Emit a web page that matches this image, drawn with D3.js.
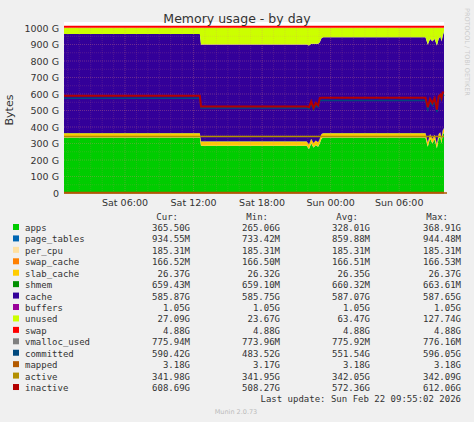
<!DOCTYPE html><html><head><meta charset="utf-8">
<script src="https://cdn.jsdelivr.net/npm/d3@7"></script>
<style>body{margin:0;background:#f0f0f0}</style></head><body><svg id="c" width="474" height="422"></svg>
<script>
const hours=[0.66,12.55,12.65,21.9,22.1,22.3,22.5,22.7,22.9,23.05,23.2,23.35,32.3,32.5,32.7,32.9,33.1,33.3,33.45,33.6,33.7,33.8,33.92];
const apps=[335,335,285,285,265,300,275,290,280,300,330,335,335,280,330,300,325,270,330,340,300,350,365.5];
const cache=[600,600,585,585,600,575,600,585,595,585,580,580,580,590,575,590,580,595,575,580,590,570,586];
const slab=[26.35,26.35,26.35,26.35,26.35,26.35,26.35,26.35,26.35,26.35,26.35,26.35,26.35,26.35,26.35,26.35,26.35,26.35,26.35,26.35,26.35,26.35,26.37];
const committed=[575,575,515,515,510,540,505,530,520,560,560,560,560,505,555,530,560,490,570,580,560,600,590];
const inactive=[590,590,525,525,520,555,515,545,530,575,578,578,578,520,570,545,575,505,585,595,575,610,608];
const active=hours.map(()=>342);
const mapped=hours.map(()=>3.18);
const vmalloc=hours.map(()=>0.78);
const totalRam=1002, swapG=4.88;
const smallG={page_tables:0.93,per_cpu:0.19,swap_cache:0.17,shmem:0.66,buffers:1.05};
const xTickLabels=["Sat 06:00","Sat 12:00","Sat 18:00","Sun 00:00","Sun 06:00"];
const xTickHours=[6,12,18,24,30];
const yTicks=[0,100,200,300,400,500,600,700,800,900,1000];
const legendNames=["apps","page_tables","per_cpu","swap_cache","slab_cache","shmem","cache","buffers","unused","swap","vmalloc_used","committed","mapped","active","inactive"];
const legendColors=["#00CC00","#0066B3","#FFE0A0","#FF8000","#FFCC00","#008F00","#330099","#990099","#CCFF00","#FF0000","#808080","#00487D","#B35A00","#B38F00","#B30000"];
const cur=["365.50G","934.55M","185.31M","166.52M","26.37G","659.43M","585.87G","1.05G","27.09G","4.88G","775.94M","590.42G","3.18G","341.98G","608.69G"];
const mins=["265.06G","733.42M","185.31M","166.50M","26.32G","659.10M","585.75G","1.05G","23.67G","4.88G","773.96M","483.52G","3.17G","341.95G","508.27G"];
const avgs=["328.01G","859.88M","185.31M","166.51M","26.35G","660.32M","587.07G","1.05G","63.47G","4.88G","775.92M","551.54G","3.18G","342.05G","572.36G"];
const maxs=["368.91G","944.48M","185.31M","166.53M","26.37G","663.61M","587.65G","1.05G","127.74G","4.88G","776.16M","596.05G","3.18G","342.09G","612.06G"];

const svg=d3.select("#c");
const L=64,R=444,T=26,B=193;
const x=d3.scaleLinear().domain([0.66,33.92]).range([L,R]);
const y=d3.scaleLinear().domain([0,1000]).range([B,28]);
svg.append("rect").attr("x",L).attr("y",T-4).attr("width",R-L).attr("height",B-T+4).attr("fill","#fff");
const rows=hours.map((h,i)=>{
 const r={h,apps:apps[i],page_tables:smallG.page_tables,per_cpu:smallG.per_cpu,swap_cache:smallG.swap_cache,slab_cache:slab[i],shmem:smallG.shmem,cache:cache[i],buffers:smallG.buffers};
 r.unused=totalRam-apps[i]-slab[i]-cache[i]-3;r.swap=swapG;return r;});
const keys=legendNames.slice(0,10);
const st=d3.stack().keys(keys)(rows);
const area=d3.area().x(d=>x(d.data.h)).y0(d=>y(d[0])).y1(d=>y(d[1]));
st.forEach((s,i)=>{ if(keys[i]==="swap")return; svg.append("path").attr("d",area(s)).attr("fill",legendColors[i]);});
const g=svg.append("g");
d3.range(0,1001,50).forEach(v=>g.append("line").attr("x1",L).attr("x2",R).attr("y1",y(v)).attr("y2",y(v)).attr("stroke","#e08080").attr("stroke-opacity",v%100?0.3:0.55).attr("stroke-dasharray","1,1").attr("stroke-width",0.6));
d3.range(1,34,1).forEach(hh=>{g.append("line").attr("x1",x(hh)).attr("x2",x(hh)).attr("y1",T).attr("y2",B).attr("stroke","#e08080").attr("stroke-opacity",hh%6?0.3:0.55).attr("stroke-dasharray","1,1").attr("stroke-width",0.6);});
const line=(arr)=>d3.line().x((d,i)=>x(hours[i])).y(d=>y(d))(arr);
const swapTop=st[9].map(d=>d[1]);
svg.append("path").attr("d",line(swapTop)).attr("stroke","#FF0000").attr("stroke-width",2).attr("fill","none");
[[vmalloc,"#808080",1.5],[committed,"#00487D",1.5],[mapped,"#B35A00",1.5],[active,"#B38F00",1.5],[inactive,"#B30000",2]].forEach(([a,c,w])=>svg.append("path").attr("d",line(a)).attr("stroke",c).attr("stroke-width",w).attr("fill","none"));
svg.append("line").attr("x1",L).attr("x2",R+3).attr("y1",B).attr("y2",B).attr("stroke","#B35A00").attr("stroke-width",1.5);
const f="DejaVu Sans, sans-serif";
yTicks.forEach(v=>svg.append("text").attr("x",L-5).attr("y",y(v)+3.5).attr("text-anchor","end").attr("font-family",f).attr("font-size",9.5).attr("fill","#333").text(v?v+" G":"0"));
xTickHours.forEach((h,i)=>svg.append("text").attr("x",x(h)).attr("y",206).attr("text-anchor","middle").attr("font-family",f).attr("font-size",9.5).attr("fill","#333").text(xTickLabels[i]));
svg.append("text").attr("x",237).attr("y",23).attr("text-anchor","middle").attr("font-family",f).attr("font-size",12.5).attr("fill","#333").text("Memory usage - by day");
svg.append("text").attr("transform","translate(13,110) rotate(-90)").attr("text-anchor","middle").attr("font-family",f).attr("font-size",11).attr("fill","#333").text("Bytes");
svg.append("text").attr("transform","translate(465,8) rotate(90)").attr("font-family",f).attr("font-size",6.5).attr("fill","#ccc").text("PROTOCOL / TOBI OETIKER");
const m="DejaVu Sans Mono, monospace";
[["Cur:",178],["Min:",268],["Avg:",358],["Max:",448]].forEach(([t,xx])=>svg.append("text").attr("x",xx).attr("y",220).attr("text-anchor","end").attr("font-family",m).attr("font-size",9).attr("fill","#333").text(t));
legendNames.forEach((n,i)=>{const yy=231+i*11.43;
 svg.append("rect").attr("x",13).attr("y",yy-7).attr("width",6).attr("height",6).attr("fill",legendColors[i]);
 svg.append("text").attr("x",25).attr("y",yy).attr("font-family",m).attr("font-size",9).attr("fill","#333").text(n);
 [[cur,190],[mins,280],[avgs,370],[maxs,461]].forEach(([a,xx])=>svg.append("text").attr("x",xx).attr("y",yy).attr("text-anchor","end").attr("font-family",m).attr("font-size",9).attr("fill","#333").text(a[i]));});
svg.append("text").attr("x",461).attr("y",402).attr("text-anchor","end").attr("font-family",m).attr("font-size",9).attr("fill","#333").text("Last update: Sun Feb 22 09:55:02 2026");
svg.append("text").attr("x",236).attr("y",414).attr("text-anchor","middle").attr("font-family",f).attr("font-size",6.5).attr("fill","#bbb").text("Munin 2.0.73");
</script></body></html>
